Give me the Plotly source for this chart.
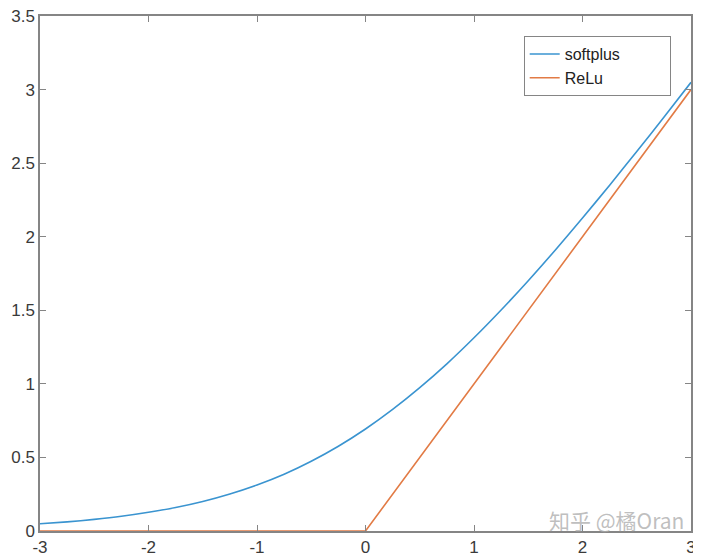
import plotly.graph_objects as go

# data
x_soft = [-3, -2.75, -2.5, -2.25, -2, -1.75, -1.5, -1.25, -1, -0.75, -0.5, -0.25,
          0, 0.25, 0.5, 0.75, 1, 1.25, 1.5, 1.75, 2, 2.25, 2.5, 2.75, 3]
y_soft = [0.049, 0.062, 0.079, 0.100, 0.127, 0.160, 0.201, 0.252, 0.313, 0.386, 0.474, 0.576,
          0.693, 0.826, 0.974, 1.136, 1.313, 1.502, 1.701, 1.910, 2.127, 2.350, 2.579, 2.812, 3.049]
x_relu = [-3, 0, 3]
y_relu = [0, 0, 3]
x_ticks = [-3, -2, -1, 0, 1, 2, 3]
y_ticks = [0, 0.5, 1, 1.5, 2, 2.5, 3, 3.5]
y_tick_text = ["0", "0.5", "1", "1.5", "2", "2.5", "3", "3.5"]
series_names = ["softplus", "ReLu"]

pad = "\u00a0" * 10

fig = go.Figure()
fig.add_trace(go.Scatter(x=x_soft, y=y_soft, mode="lines", name=series_names[0] + pad,
                         line=dict(color="#3a94d0", width=1.6, shape="spline", smoothing=0.6)))
fig.add_trace(go.Scatter(x=x_relu, y=y_relu, mode="lines", name=series_names[1] + pad,
                         line=dict(color="#e27b45", width=1.6)))

axis_common = dict(showgrid=False, zeroline=False, showline=True, linecolor="#858585",
                   linewidth=1.5, mirror="ticks", ticks="inside", ticklen=6,
                   tickcolor="#858585", tickwidth=1.2, automargin=False,
                   ticklabeloverflow="allow",
                   tickfont=dict(family="Liberation Sans, Arial", size=17, color="#3a3a3a"))
fig.update_xaxes(range=[-3, 3], tickvals=x_ticks, ticktext=[str(v) for v in x_ticks], **axis_common)
fig.update_yaxes(range=[0, 3.5], tickvals=y_ticks, ticktext=y_tick_text, **axis_common)

# page body has an 8px margin: shrink figure and margins so the plot area sits at x 40-691, y 16-531
fig.update_layout(
    width=693, height=552,
    margin=dict(l=32, r=10, t=8, b=29, autoexpand=False),
    plot_bgcolor="white", paper_bgcolor="white",
    legend=dict(x=0.743, y=0.961, xanchor="left", yanchor="top",
                bordercolor="#858585", borderwidth=1, bgcolor="white",
                font=dict(family="Liberation Sans, Arial", size=16, color="#222222")),
    annotations=[dict(text="知乎 @橘Oran", xref="paper", yref="paper",
                      x=0.885, y=0.022, xanchor="center", yanchor="middle", showarrow=False,
                      font=dict(family="Noto Sans CJK SC", size=21, color="rgba(170,170,170,0.75)"))],
)

fig.write_html("out.html")
